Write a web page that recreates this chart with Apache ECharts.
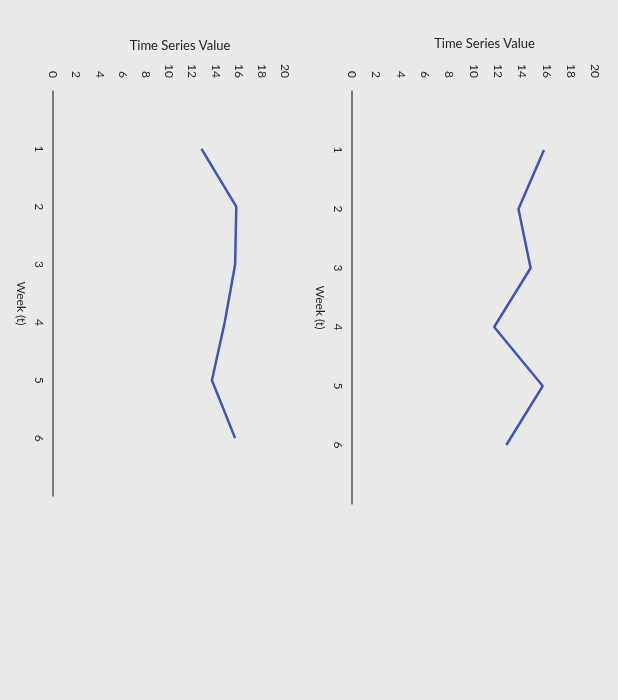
<!DOCTYPE html>
<html><head><meta charset="utf-8">
<script src="https://cdn.jsdelivr.net/npm/echarts@6/dist/echarts.min.js"></script>
<style>html,body{margin:0;padding:0;background:#e9e9e7}#c{width:618px;height:700px}</style>
</head><body><div id="c"></div>
<script>
const weeks = [1, 2, 3, 4, 5, 6];
const rightChartValues = [15.8, 13.7, 14.7, 11.7, 15.7, 12.7];
const leftChartValues = [12.8, 15.8, 15.7, 14.8, 13.7, 15.7];
const valueTicks = [0, 2, 4, 6, 8, 10, 12, 14, 16, 18, 20];
const weekTicks = [1, 2, 3, 4, 5, 6];

const font = 'Lato';
function xAx(idx, gap) {
  return {
    type: 'value', gridIndex: idx, position: 'top', min: 0, max: 20, interval: 2,
    name: 'Time Series Value', nameLocation: 'middle', nameGap: gap,
    nameTextStyle: {color: '#222', fontSize: 13, fontFamily: font, padding: [0, 0, 0, 22]},
    axisLine: {show: false}, axisTick: {show: false}, splitLine: {show: false},
    axisLabel: {rotate: -90, margin: 13, color: '#2a2a2a', fontSize: 12, fontFamily: font,
      formatter: v => valueTicks.includes(v) ? String(v) : ''}
  };
}
function yAx(idx) {
  return {
    type: 'value', gridIndex: idx, inverse: true, min: 0, max: 7, interval: 1,
    name: 'Week (t)', nameLocation: 'middle', nameGap: 26, nameRotate: -90,
    nameTextStyle: {color: '#222', fontSize: 12, fontFamily: font, padding: [0, 0, 0, 20]},
    axisLine: {show: true, lineStyle: {color: '#555', width: 1.5}},
    axisTick: {show: false}, splitLine: {show: false},
    axisLabel: {rotate: -90, margin: 8, color: '#2a2a2a', fontSize: 12, fontFamily: font,
      formatter: v => weekTicks.includes(v) ? String(v) : ''}
  };
}
const chart = echarts.init(document.getElementById('c'));
chart.setOption({
  backgroundColor: '#e9e9e7',
  animation: false,
  grid: [
    {left: 352, right: 23, top: 91, bottom: 196},
    {left: 53, right: 333, top: 91, bottom: 204}
  ],
  xAxis: [xAx(0, 41), xAx(1, 39)],
  yAxis: [yAx(0), yAx(1)],
  series: [
    {type: 'line', xAxisIndex: 0, yAxisIndex: 0, symbol: 'none',
     lineStyle: {color: '#3d55c4', width: 2.5},
     data: weeks.map((w, i) => [rightChartValues[i], w])},
    {type: 'line', xAxisIndex: 1, yAxisIndex: 1, symbol: 'none',
     lineStyle: {color: '#3d55c4', width: 2.5},
     data: weeks.map((w, i) => [leftChartValues[i], w])}
  ]
});
</script></body></html>
